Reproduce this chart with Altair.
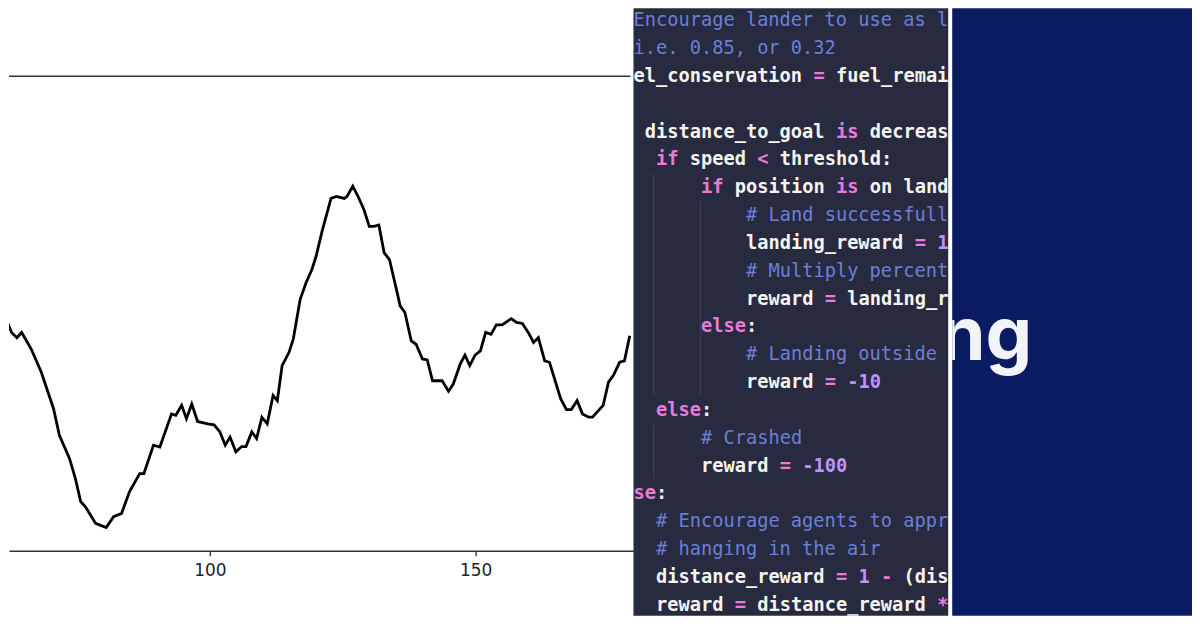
import altair as alt
import pandas as pd

# ---------- line chart data ----------
episode = [60.8, 61.5, 62.7, 63.7, 64.6, 66.4, 68.3, 70.6, 71.7, 73.6,
           74.7, 75.7, 76.6, 78.5, 80.5, 81.9, 83.4, 84.9, 86.8, 87.6,
           89.4, 90.6, 92.8, 93.6, 94.7, 95.6, 96.6, 97.7, 99.6, 100.8,
           101.9, 102.9, 103.8, 104.9, 106.0, 106.8, 107.9, 108.8, 109.8, 110.8,
           111.9, 112.7, 113.6, 114.9, 115.7, 117.0, 118.1, 119.2, 120.0, 121.1,
           122.8, 123.8, 125.3, 125.8, 126.9, 127.9, 129.0, 130.0, 130.9, 131.8,
           132.8, 133.8, 135.1, 135.8, 136.7, 137.9, 138.8, 140.0, 140.9, 141.9,
           143.7, 144.9, 145.8, 147.1, 148.0, 148.9, 149.9, 150.9, 151.9, 152.9,
           153.9, 155.0, 156.7, 157.7, 158.8, 159.9, 160.9, 161.8, 163.0, 163.9,
           166.0, 167.1, 168.0, 169.1, 170.1, 171.3, 172.0, 173.1, 174.0, 175.0,
           175.9, 177.1, 178.0, 179.0]
reward = [49.0, 49.2, 45.9, 44.8, 45.9, 42.4, 37.5, 29.8, 24.2, 19.3,
          15.1, 10.2, 9.1, 5.6, 4.7, 7.0, 7.7, 12.3, 16.1, 16.1,
          22.1, 21.7, 28.7, 28.4, 30.5, 27.7, 30.8, 27.1, 26.6, 26.4,
          24.9, 22.1, 23.8, 20.7, 21.8, 21.8, 24.9, 23.5, 28.0, 26.6,
          32.6, 31.5, 38.9, 41.7, 44.5, 52.9, 56.4, 59.2, 62.0, 67.2,
          74.2, 74.6, 74.2, 74.6, 76.8, 74.6, 71.8, 68.3, 68.3, 68.6,
          62.7, 61.3, 55.0, 51.5, 50.1, 44.1, 43.4, 40.3, 40.1, 35.7,
          35.7, 33.5, 35.0, 39.2, 41.1, 38.9, 41.1, 42.0, 45.9, 45.5,
          47.5, 47.5, 48.8, 48.0, 47.8, 45.9, 43.8, 44.8, 39.9, 39.6,
          31.9, 29.6, 29.6, 31.5, 28.7, 28.0, 28.0, 29.4, 30.5, 35.4,
          36.8, 39.6, 39.9, 45.2]
x_ticks = [100, 150]
frame_top = [100]

# ---------- code panel text ----------
C_TXT, C_KW, C_NUM, C_COM = "#f4f4f0", "#ea7ad9", "#bd93f9", "#6b7fd7"
code_lines = [
    [(0, "Encourage lander to use as l", C_COM)],
    [(0, "i.e. 0.85, or 0.32", C_COM)],
    [(0, "el_conservation", C_TXT), (16, "=", C_KW), (18, "fuel_remai", C_TXT)],
    [],
    [(1, "distance_to_goal", C_TXT), (18, "is", C_KW), (21, "decreas", C_TXT)],
    [(2, "if", C_KW), (5, "speed", C_TXT), (11, "<", C_KW), (13, "threshold:", C_TXT)],
    [(6, "if", C_KW), (9, "position", C_TXT), (18, "is", C_KW), (21, "on", C_TXT), (24, "land", C_TXT)],
    [(10, "# Land successfull", C_COM)],
    [(10, "landing_reward", C_TXT), (25, "=", C_KW), (27, "1", C_NUM)],
    [(10, "# Multiply percent", C_COM)],
    [(10, "reward", C_TXT), (17, "=", C_KW), (19, "landing_r", C_TXT)],
    [(6, "else", C_KW), (10, ":", C_TXT)],
    [(10, "# Landing outside", C_COM)],
    [(10, "reward", C_TXT), (17, "=", C_KW), (19, "-10", C_NUM)],
    [(2, "else", C_KW), (6, ":", C_TXT)],
    [(6, "# Crashed", C_COM)],
    [(6, "reward", C_TXT), (13, "=", C_KW), (15, "-100", C_NUM)],
    [(0, "se", C_KW), (2, ":", C_TXT)],
    [(2, "# Encourage agents to appr", C_COM)],
    [(2, "# hanging in the air", C_COM)],
    [(2, "distance_reward", C_TXT), (18, "=", C_KW), (20, "1", C_NUM), (22, "-", C_KW), (24, "(dis", C_TXT)],
    [(2, "reward", C_TXT), (9, "=", C_KW), (11, "distance_reward", C_TXT), (27, "*", C_KW)],
]
code_rows, comment_rows = [], []
for r, toks in enumerate(code_lines):
    for col, txt, colr in toks:
        rec = {"row": r, "col": col, "txt": txt, "color": colr}
        (comment_rows if colr == C_COM else code_rows).append(rec)
guide_col = [1.8, 1.8, 5.95]
guide_start = [5.3, 14.3, 6.27]
guide_end = [13.26, 16.27, 13.26]

side_text = ["ng"]

# ---------- layout ----------
H = 608
W1, W2, W3 = 625, 315, 240

line_df = pd.DataFrame({"episode": episode, "reward": reward})
xs = alt.Scale(domain=[62.22, 179.7], nice=False, zero=False)
ys = alt.Scale(domain=[-13.92, 114.35], nice=False, zero=False)

line = alt.Chart(line_df).mark_line(color="#000000", strokeWidth=2.8, clip=True).encode(
    x=alt.X("episode:Q", scale=xs,
            axis=alt.Axis(values=x_ticks, title=None, grid=False, offset=-65,
                          domainColor="#333333", domainWidth=1.6,
                          tickColor="#333333", tickWidth=1.3, tickSize=5,
                          labelFont="DejaVu Sans", labelFontSize=17,
                          labelColor="#222222", labelPadding=7)),
    y=alt.Y("reward:Q", scale=ys, axis=None),
)
top = alt.Chart(pd.DataFrame({"v": frame_top})).mark_rule(color="#333333", strokeWidth=1.6).encode(
    y=alt.Y("v:Q", scale=ys, axis=None),
    x=alt.value(0), x2=alt.value(622),
)
p1 = alt.layer(line, top).properties(width=W1, height=H,
                                     view=alt.ViewBackground(fill="#ffffff"))

cx = alt.Scale(domain=[0, 27.98], nice=False, zero=False)
cy = alt.Scale(domain=[-0.6462, 21.18], nice=False, zero=False, reverse=True)


def code_layer(rows, weight):
    return alt.Chart(pd.DataFrame(rows)).mark_text(
        font="DejaVu Sans Mono", fontSize=18.7, fontWeight=weight,
        align="left", baseline="alphabetic", clip=True
    ).encode(
        x=alt.X("col:Q", scale=cx, axis=None),
        y=alt.Y("row:Q", scale=cy, axis=None),
        text="txt:N",
        color=alt.Color("color:N", scale=None),
    )


guides = alt.Chart(pd.DataFrame({"c": guide_col, "s": guide_start, "e": guide_end})).mark_rule(
    color="#3d3e55", strokeWidth=1.2
).encode(
    x=alt.X("c:Q", scale=cx, axis=None),
    y=alt.Y("s:Q", scale=cy, axis=None),
    y2="e:Q",
)
p2 = alt.layer(guides, code_layer(code_rows, "bold"), code_layer(comment_rows, "normal")).properties(
    width=W2, height=H, view=alt.ViewBackground(fill="#282a3f"))

p3 = alt.Chart(pd.DataFrame({"t": side_text})).mark_text(
    font="Inter", fontSize=74, fontWeight="bold", color="#f2f4fa",
    align="right", baseline="alphabetic", clip=True
).encode(
    text="t:N", x=alt.value(80), y=alt.value(352)
).properties(width=W3, height=H, view=alt.ViewBackground(fill="#0a1b61"))

chart = alt.hconcat(p1, alt.hconcat(p2, p3, spacing=4), spacing=0).properties(
    padding=0
).configure(background="#ffffff").configure_view(strokeWidth=0)

chart.save("out.html", embed_options={"renderer": "svg", "actions": False})
